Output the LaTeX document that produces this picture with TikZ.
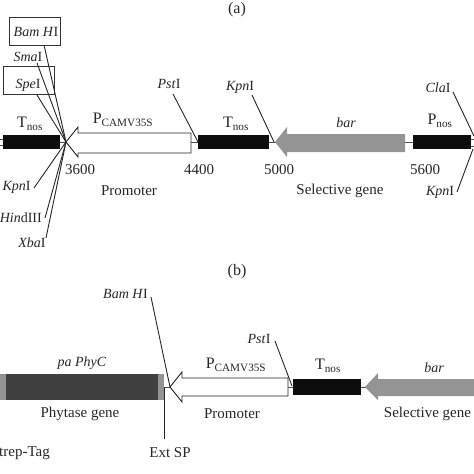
\documentclass[tikz,border=0pt]{standalone}
\usepackage{fontspec}
\setmainfont{Liberation Serif}
\usetikzlibrary{positioning}
\definecolor{txtgray}{gray}{0.15}
\definecolor{bargray}{gray}{0.58}
\tikzset{
    site/.style={font=\fontsize{14}{15}\selectfont, text=txtgray, inner sep=0pt},
    lab/.style={font=\fontsize{15}{16}\selectfont, text=txtgray, inner sep=0pt},
    elem/.style={font=\fontsize{16}{18}\selectfont, text=txtgray, inner sep=0pt},
    cut/.style={line width=0.9pt, black!85},
    back/.style={line width=0.7pt, black!70},
    sitebox/.style={draw=black!80, line width=0.8pt, minimum width=51pt, minimum height=28pt, inner sep=0pt},
    term/.style={fill=black!95, draw=none},
}
\begin{document}
\begin{tikzpicture}[x=1pt,y=-1pt]
    \useasboundingbox (0,0) rectangle (474,474);

    % (a) backbone
    \node[elem] (a) at (237,10) {(a)};
    \draw[back] (60,142) -- (413,142);
    \draw[back] (0,139) -- (3,139) (0,145) -- (3,145);
    \draw[back] (471,139) -- (474,139) (471,146) -- (474,146);

    % Elements
    \fill[term] (3,135) rectangle (60,149);
    \fill[term] (198,135) rectangle (269,149);
    \fill[term] (413,135) rectangle (471,149);
    \draw[line width=0.9pt, black!85, fill=white] (66,142) -- (78,127) -- (78,133) -- (191,133) -- (191,153) -- (78,153) -- (78,157) -- cycle;
    \fill[bargray] (275,142) -- (287,127) -- (287,134) -- (405,134) -- (405,152) -- (287,152) -- (287,157) -- cycle;

    % Boxed sites
    \node[sitebox] (bambox) at (34.5,31) {};
    \node[sitebox] (spebox) at (28.5,80) {};
    \node[site] (bam) at (36,32) {\textit{Bam H}I};
    \node[site] (sma) at (28,57) {\textit{Sma}I};
    \node[site] (spe) at (28,85) {\textit{Spe}I};
    \coordinate (hub) at (66,142);

    % Sites above
    \draw[cut] (44,45) -- (hub);
    \draw[cut] (37,63) -- (hub);
    \draw[cut] (37,95) -- (hub);

    % Sites below
    \node[site] (kpnA) at (16.5,187) {\textit{Kpn}I};
    \node[site, anchor=east] (hind) at (42,218) {\textit{Hin}dIII};
    \node[site] (xba) at (32,243) {\textit{Xba}I};
    \coordinate (kpnEnd) at (34,188);
    \coordinate (hindEnd) at (45,218);
    \coordinate (xbaEnd) at (46,238);
    \draw[cut] (hub) -- (kpnEnd);
    \draw[cut] (hub) -- (hindEnd);
    \draw[cut] (hub) -- (xbaEnd);

    % Other sites of (a)
    \node[site] (pstA) at (169,84) {\textit{Pst}I};
    \node[site] (kpnB) at (240,87) {\textit{Kpn}I};
    \node[site] (cla) at (438,88) {\textit{Cla}I};
    \node[site] (kpnC) at (440,192) {\textit{Kpn}I};
    \coordinate (pstEnd) at (173,94);
    \coordinate (pstHit) at (198,142);
    \coordinate (kpnBEnd) at (252,95);
    \coordinate (kpnBHit) at (274,142);
    \coordinate (claEnd) at (453,92);
    \coordinate (claHit) at (474,136);
    \coordinate (kpnCEnd) at (457,192);
    \coordinate (kpnCHit) at (473,149);
    \draw[cut] (pstEnd) -- (pstHit);
    \draw[cut] (kpnBEnd) -- (kpnBHit);
    \draw[cut] (claEnd) -- (claHit);
    \draw[cut] (kpnCEnd) -- (kpnCHit);

    % Labels of (a)
    \node[elem] (tnosA) at (30,124) {T\textsubscript{nos}};
    \node[elem] (camA) at (123,120) {P\textsubscript{CAMV35S}};
    \node[elem] (tnosB) at (236,124) {T\textsubscript{nos}};
    \node[site] (barA) at (346,123) {\textit{bar}};
    \node[elem] (pnos) at (440,121) {P\textsubscript{nos}};
    \node[lab] (n3600) at (80,170) {3600};
    \node[lab] (n4400) at (199,170) {4400};
    \node[lab] (n5000) at (279,170) {5000};
    \node[lab] (n5600) at (425,170) {5600};
    \node[lab] (prom) at (129,191) {Promoter};
    \node[lab] (sel) at (340,191) {Selective gene};

    % (b) backbone
    \node[elem] (b) at (237,272) {(b)};
    \draw[back] (164,387) -- (474,387);

    % Elements
    \fill[bargray] (0,374) rectangle (164,400);
    \fill[black!75] (6,374) rectangle (158,400);
    \draw[line width=0.9pt, black!85, fill=white] (170,387) -- (182,372) -- (182,378) -- (288,378) -- (288,396) -- (182,396) -- (182,402) -- cycle;
    \fill[term] (293,379) rectangle (361,395);
    \fill[bargray] (365,387) -- (378,373) -- (378,379) -- (474,379) -- (474,396) -- (378,396) -- (378,400) -- cycle;

    % Sites of (b)
    \node[site] (bamB) at (125.5,294) {\textit{Bam H}I};
    \node[site] (pstB) at (259,339) {\textit{Pst}I};
    \node[lab] (ext) at (170,453) {Ext SP};
    \coordinate (bamEnd) at (151,297);
    \coordinate (bamHit) at (170,387);
    \coordinate (extTop) at (164,387);
    \coordinate (extEnd) at (164,439);
    \coordinate (pstBEnd) at (275,341);
    \coordinate (pstBHit) at (292,386);
    \draw[cut] (bamEnd) -- (bamHit);
    \draw[cut] (extTop) -- (extEnd);
    \draw[cut] (pstBEnd) -- (pstBHit);

    % Labels of (b)
    \node[site] (phy) at (82,363) {\textit{pa PhyC}};
    \node[lab] (gene) at (80,414) {Phytase gene};
    \node[lab, anchor=east] (tag) at (50,453) {trep-Tag};
    \node[elem] (camB) at (236,365) {P\textsubscript{CAMV35S}};
    \node[lab] (promB) at (232,414) {Promoter};
    \node[elem] (tnosC) at (328,366) {T\textsubscript{nos}};
    \node[site] (barB) at (434,368) {\textit{bar}};
    \node[lab] (selB) at (427.5,414) {Selective gene};
\end{tikzpicture}
\end{document}
